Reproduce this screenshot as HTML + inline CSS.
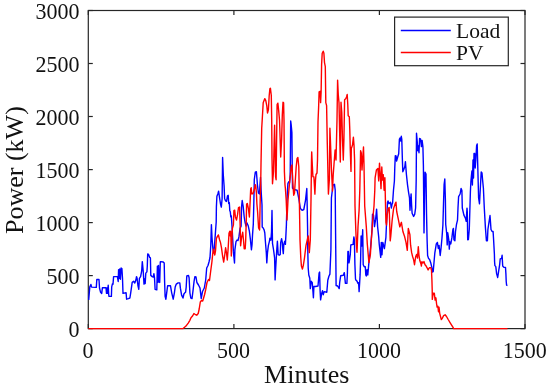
<!DOCTYPE html>
<html><head><meta charset="utf-8"><style>
html,body{margin:0;padding:0;background:#fff;}
svg{display:block;}
text{font-family:"Liberation Serif",serif;fill:#111;}
</style></head><body>
<svg width="550" height="388" viewBox="0 0 550 388">
<rect width="550" height="388" fill="#fff"/>
<g stroke="#262626" stroke-width="1.2" fill="none">
<rect x="88.3" y="10.5" width="436.7" height="318.1"/>
<line x1="88.3" y1="328.6" x2="92.8" y2="328.6"/><line x1="525.0" y1="328.6" x2="520.5" y2="328.6"/><line x1="88.3" y1="275.6" x2="92.8" y2="275.6"/><line x1="525.0" y1="275.6" x2="520.5" y2="275.6"/><line x1="88.3" y1="222.6" x2="92.8" y2="222.6"/><line x1="525.0" y1="222.6" x2="520.5" y2="222.6"/><line x1="88.3" y1="169.6" x2="92.8" y2="169.6"/><line x1="525.0" y1="169.6" x2="520.5" y2="169.6"/><line x1="88.3" y1="116.5" x2="92.8" y2="116.5"/><line x1="525.0" y1="116.5" x2="520.5" y2="116.5"/><line x1="88.3" y1="63.5" x2="92.8" y2="63.5"/><line x1="525.0" y1="63.5" x2="520.5" y2="63.5"/><line x1="88.3" y1="10.5" x2="92.8" y2="10.5"/><line x1="525.0" y1="10.5" x2="520.5" y2="10.5"/><line x1="88.3" y1="328.6" x2="88.3" y2="324.1"/><line x1="88.3" y1="10.5" x2="88.3" y2="15.0"/><line x1="233.9" y1="328.6" x2="233.9" y2="324.1"/><line x1="233.9" y1="10.5" x2="233.9" y2="15.0"/><line x1="379.4" y1="328.6" x2="379.4" y2="324.1"/><line x1="379.4" y1="10.5" x2="379.4" y2="15.0"/><line x1="525.0" y1="328.6" x2="525.0" y2="324.1"/><line x1="525.0" y1="10.5" x2="525.0" y2="15.0"/>
</g>
<g fill="none" stroke-width="1.4" stroke-linejoin="round" stroke-linecap="butt">
<polyline stroke="#0000ff" points="88.7,299.9 89.8,286.9 90.9,284.5 91.6,287.1 96.3,287.4 96.8,279.5 99,279.5 99.5,288 100.6,292.3 101.7,293.4 102.4,287.8 106,287.8 106.5,293.4 107.1,288 107.6,293.4 108.2,285.3 108.7,294.5 109,296.4 111.4,296.4 111.7,286.9 112.5,283.6 113,284.2 113.6,276.6 117.4,276.6 118.2,281.5 118.6,269.6 119.3,278.2 119.7,269 120.4,279.3 121.1,268 121.9,268.5 122.5,278.2 123,293.4 126.1,292.8 126.6,299.2 128.4,298.6 129.9,298 130.7,292.8 132.2,282.4 133.6,281.2 134.8,283 135.9,280 136.5,276.6 137.1,278.3 138,285.8 138.8,289.3 139.4,278.3 140.6,276.6 141.7,270.8 142.3,261.6 143.2,270.8 144,284.1 144.6,278.9 145.2,283.5 145.8,273.1 146.9,271.9 147.3,266 147.7,253.9 148.5,254.3 149.7,257.4 150.4,257.8 150.8,275.4 152.2,276.6 153.3,277.1 153.9,273.7 154.5,277.7 155.1,289.3 156.8,289.9 157.4,266.1 158,282.4 158.5,265.5 159.1,281.2 159.7,282.4 160.3,262.1 160.5,261.6 163.2,262 164.2,263 164.6,281.2 165.1,296.3 165.9,299.2 166.7,292.8 167.6,285.8 170.5,285.8 171.7,292.8 173.2,299.2 174.4,292.8 175.2,287 176.3,284.1 178.1,282.9 179.8,282.9 180.4,288.2 181.6,295.1 183,298 183.9,294 184.8,292.8 185.6,292.2 186.2,287 186.8,276 188.5,275.4 189.1,277.7 189.9,292.8 190.8,298 192,298.6 192.9,291.6 194.1,281.2 194.9,276.6 196,277 196.9,282.5 198.5,285 200,288 201.2,298.5 202.5,291.5 204.3,288 205.7,280 206.7,268 208,265.5 209,262 210,257.5 210.8,245 211.4,224.6 212,237.5 212.8,247.8 213.5,252.9 214.3,247.8 215.3,234.4 216.2,222 216.4,206.6 216.9,196.3 217.9,193.7 218.6,191.2 219.5,197.3 220.5,204 221.3,207.1 222.1,199 222.6,157.5 223.3,175 224.1,186 224.6,198.4 225.6,201 226.5,201.5 227.5,195.8 228.2,195.3 228.7,203.5 229.3,202.5 229.8,210.7 230.3,211.8 230.8,216.9 231.3,215.9 232,226 232.9,242.6 233.4,251.9 233.9,257 234.5,263 234.9,249.8 236,241.6 237,240 238,240.6 239,236.4 240.1,228.2 241.1,226.1 241.6,206.6 242.2,200.5 243.2,206.6 244.2,217 245,222 246,226 247,223 248.3,226.1 249.4,231.3 250.4,239.5 251.4,249.8 252,245 252.5,235.4 253.3,224.1 253.8,204 254.3,179.5 255.3,172.2 256.4,171.7 257.4,184.6 258.4,192.9 259.5,193.9 260,184.6 260.5,177.4 261.1,190 261.5,197 262,205 262.2,227 263.2,228 264.2,230.1 264.8,233 265.3,240.2 266.3,252.6 266.8,262.9 267.5,252.6 268.4,245.4 269.4,241.3 269.9,238.2 270.9,240.2 271.5,232 272,210.5 272.5,243.3 273.5,249.5 274.6,257.8 275.1,279.9 275.6,270 276.6,252.6 277.4,241.3 278.2,254.7 279.2,255.2 280.2,254.7 280.7,242.3 281.6,238.7 282.3,242.3 282.8,249.5 283.3,253.6 283.8,244.4 284.7,241.3 285.4,244.4 285.9,235.1 286.4,224.9 287,200.3 287.9,183.5 288.7,181.8 289.5,183 290.2,175 290.7,121 291.2,125 291.9,132.5 292.2,165 292.5,188 293.7,189.4 297.1,190.2 298.8,198.6 300.4,208.6 302.1,210.3 303.8,209.5 305.5,200.3 306.8,188.5 307.1,201.5 307.6,229.3 307.7,247.4 308.2,268 308.8,275 309.8,278.2 310.3,288.6 311.1,281.3 312.2,282.4 312.9,290.6 313.4,297.8 313.9,286.5 315.5,286.5 318,286 319.1,273.1 319.6,272.1 320.1,290.6 320.6,299.9 321.1,297 321.6,293.7 322.5,290.6 323.2,294.7 324.2,291.6 326.8,292.2 327.8,280.3 328.9,276.2 329.9,274.1 330.9,250 331.4,198 333,184.8 334.5,184.3 335.2,190 335.6,234 336.1,285.5 337.6,286 339.2,288.6 339.7,282.4 340.7,275.7 343.3,275.2 344.3,272.6 345.4,283.4 346.9,283.4 347.4,273.1 347.9,251.5 348.4,251.5 349,262.9 349.5,260 350.3,254.3 350.8,245 353.1,244.3 353.9,236.9 354.4,240 354.9,264.6 355.5,279 356,280.3 357,281.1 358,283.4 358.6,282.7 359.1,291.6 359.6,283.4 360.1,274.9 360.6,260 361.1,235.9 361.6,246.1 362.2,240 362.7,229.7 363.2,264.6 364.2,266.7 365.3,266.7 365.8,274.9 366.3,276 366.8,270 367.3,269.8 367.8,275 368.9,262.6 369.9,254.3 370.9,244 372,230 372.5,214.2 373.5,215 374.3,223.8 374.5,226.6 375.6,219.4 376.6,209.1 377.6,226.6 378.7,236.9 379.2,244 380.7,257.4 381.3,242.4 382,254.7 382.8,242.4 384.4,248.6 385.9,237.7 386.7,219.2 387.5,202.2 388,201 389,203.7 390.5,202.2 391.3,208 392.1,204 392.6,203 393.5,190 394.4,181 394.8,167 395.3,155.8 396.1,156 396.6,161.1 397.7,157 398.7,153.8 399.4,139.4 400,138 400.8,141 401.3,136.3 401.8,139.4 402.3,156.9 402.8,171.7 403.9,169.2 404.9,166.1 405.4,161.6 406.4,174.3 407.5,184.6 408.5,191.8 409.5,198 410,210.2 410.6,200 411.1,193.9 411.6,205 412.1,213.3 413.6,216.4 414.7,214.4 415.6,208 416.2,180 416.5,133.2 417.2,141 417.8,150.7 418.4,146 419,152.8 419.6,138.4 420.6,139 421.4,146.6 422.1,140.4 422.9,146.6 423.4,166 424,232.9 424.5,200 425,172.2 426,174 426.5,212.3 427.1,240 427.6,255.5 428.6,258.6 429.6,259.6 430.7,262.7 431.7,266.8 432.7,272 433.2,271.7 434.8,253.2 436.3,243.9 437.4,242.4 438.3,248.5 439.1,245.5 440.2,255.5 441,248.5 442,237.7 442.9,225 443.5,204 444.1,184.6 444.8,179 445.4,200 445.7,224.3 446.7,233.6 447.2,244.9 447.7,232.6 448.8,239.8 449.3,249.1 449.8,241.8 450.8,243.9 451.9,237.7 452.9,229.5 453.4,228.4 453.9,239.8 454.9,240.8 455.5,231.5 456.5,224.3 457.5,220.2 458,208 458.6,196.6 460.1,194 461.1,188.4 461.9,190.4 462.3,208 463.9,215.1 465.4,218.2 466.2,221.3 467,208.1 467.3,212 467.7,239.8 468.4,239.5 469.3,229 470.4,191.5 470.9,181.2 471.4,176 471.9,171 472.4,185 473,160 473.5,178 474,153.5 474.7,153.5 475.2,168 475.8,160 476.6,145.8 477.2,143.9 477.6,160 478.6,198 479.5,203.8 480.5,185 481.2,172 482,173 482.6,180 483.4,188.4 484.3,208 485.4,227.4 486.4,240.8 487.4,240.8 487.9,229.5 489,222.2 490,215.5 490.5,222.2 491,229.5 492.1,231.5 493.1,231.5 493.6,239.8 494.4,254.3 494.6,262 494.9,265.6 495.8,266.6 496.6,273.6 497.7,277.5 498.5,272.1 499.7,264.3 500.2,259 501.6,258.4 502.1,255.3 502.7,266 503.9,267.4 505.5,267.4 505.9,273.6 506.2,281.3 506.6,285.2 507.4,285.6"/>
<polyline stroke="#ff0000" points="88.3,328.6 183.1,328.6 184.8,327.1 186.5,325.4 188.2,323.1 189.9,320.3 191,317.7 192.7,315.8 193.9,313.5 195,314.3 196.7,315.2 198.2,313.5 199.2,309 200.3,302 201.5,300.5 202.7,301 203.6,298 204.6,294.5 205.7,289.5 207,282.5 208.5,279.5 209.5,280.5 210.7,271 211.9,262 212.8,253 213.5,249 214.3,253 214.8,255 215.5,251 216.4,238.5 217.4,236.4 218.4,234.9 219.5,239.5 220.5,242.6 221.5,247.8 222.6,256 223.7,262 224.6,256 225.6,247.8 226.5,252.9 227.3,260 228.2,247.8 229,233.3 229.8,231.3 230.3,236 230.8,231.3 231.3,256 231.8,245 232.4,228.2 233.4,225.1 233.9,210.7 234.7,210.2 235.4,216.9 236.5,220 237.5,214.9 238.5,207.6 239.6,207.1 240.1,224 240.6,245.7 241.6,237.5 242.7,232.3 243.5,240 244.2,248.8 245.2,248.8 245.7,240 246.3,220 246.6,204 247.3,203.5 248.4,208.7 249.4,217 250.2,200 250.7,188.7 251.2,187.7 251.7,193.9 252.8,193.9 254.3,189.8 255.3,184.6 255.8,186 256.4,192.9 256.9,204 257.6,212 258.6,228 259.6,230 260.2,200 260.7,184 261,164 261.7,128.3 262.2,120 263.2,102.7 264.8,98.6 265.8,100.6 266.8,105.8 267.5,113 268.4,109.9 269.2,95.5 269.9,88.8 270.4,88.2 271.3,95.5 271.7,120 272,158 272.5,183.8 273.5,171.5 274.2,140 274.6,125.2 275.1,150 275.6,176.6 276.1,179.7 276.6,140 277.1,104.7 277.9,103.2 278.7,110.9 279.5,120 279.8,128 280.7,157 281.6,140 282.3,115 283,102.2 283.6,102.7 284,120 284.4,171.5 285,185 285.4,188.5 286.2,200.3 287,220 288,200 289.5,183.5 291.2,166.8 292,165 292.9,183.5 293.7,195.2 294.5,193 296.2,166.8 297.1,158.4 297.9,157.5 298.8,166.8 299.6,215 300,240 300.8,258 301.4,266 302.4,269.1 303.4,265 304.5,257.8 306,245.4 307.2,240.2 308.2,236 309.3,252.6 310.3,240 311,200 311.5,160 311.7,151.9 312.3,165 312.9,176.6 313.9,177 314.9,194.1 315.5,180 316,174.5 317,173 317.5,160 318,122 318.6,107.8 319.1,91.8 320.1,91.3 320.6,102.6 321.1,92.3 321.6,64.6 322.2,53.3 323.2,51.2 323.9,53.3 324.5,62.6 325.3,66.7 325.8,102.6 326.6,105.7 327.3,143.7 328.4,194.1 329.4,178.6 329.9,128.2 330.4,140 331.4,168.3 332.5,191 333.2,175 334,164.2 335.1,150 336,160 337,120 337.6,80.1 338.3,95 339,102.6 339.6,130 340.3,162 341,102.3 341.8,112.9 342.5,140 343.3,160 343.9,140 344.6,99.7 345.7,98.7 346.5,97 347.2,94.5 347.8,105 348.2,115.7 349.3,116.7 349.8,130 350.3,150.6 351,171.4 351.3,148.6 352.5,145 353.4,137.2 354,145 354.6,160 355,206 355.8,230 356.5,246 357,252.2 357.5,240 358,226.6 359.1,210.1 359.8,190 360.6,150.6 361.3,153 362,170 362.6,160 363.5,147 364,165 364.7,206 366.3,226.6 367.3,244 368.9,262.6 370.4,254.3 370.9,246 373,216.3 374,206 374.8,190 375.1,177.8 376.4,170.1 377.9,168.5 378.7,180.9 379.5,163.1 380.3,175 381,188.6 381.8,167 382.5,180 383.3,174.7 384.1,190.2 384.9,177.8 385.9,222.3 386.5,225 387.2,215 388.2,208.4 389.2,207.5 390.2,240.8 390.8,236 392.1,220.7 393.6,208.4 395.2,203.7 396,202.2 396.7,211.5 398.3,219.2 399.8,226.9 401.4,222.3 402.9,231.5 404.5,236.2 406,242.4 407.3,250.3 408.3,228.5 409.9,234.6 410.6,245.2 411.6,252.4 412.6,256.5 413.6,259.6 414.5,264.7 415.7,256.5 416.7,254.4 417.5,258 418.3,246.7 419,255.5 419.8,260.6 420.9,263.7 421.4,266 421.9,261.6 423,263 424,261.6 425,264.7 426,265.8 427.1,267.8 428.1,269.9 428.8,268.6 429.8,267.6 430.8,267.6 431.5,270.2 431.9,279.5 432.2,289.8 432.3,299.4 433.2,293.2 434.3,293.2 435.1,300.1 435.9,297.8 436.6,304 437.1,307.1 437.9,306.3 438.5,311.7 439,307.1 439.7,313.3 441.3,319.5 442.2,318.5 443.6,315.6 445.1,314.8 446.5,316.5 448.2,319.5 450.5,323.3 452.9,327.2 453.7,328.6 507.5,328.6"/>
</g>
<g font-size="22">
<text transform="translate(79.4,337.0) scale(1,1.08)" text-anchor="end">0</text><text transform="translate(79.4,284.0) scale(1,1.08)" text-anchor="end">500</text><text transform="translate(79.4,231.0) scale(1,1.08)" text-anchor="end">1000</text><text transform="translate(79.4,178.0) scale(1,1.08)" text-anchor="end">1500</text><text transform="translate(79.4,124.9) scale(1,1.08)" text-anchor="end">2000</text><text transform="translate(79.4,71.9) scale(1,1.08)" text-anchor="end">2500</text><text transform="translate(79.4,18.9) scale(1,1.08)" text-anchor="end">3000</text>
<text transform="translate(88.0,357.9) scale(1,1.08)" text-anchor="middle">0</text><text transform="translate(233.6,357.9) scale(1,1.08)" text-anchor="middle">500</text><text transform="translate(379.1,357.9) scale(1,1.08)" text-anchor="middle">1000</text><text transform="translate(524.7,357.9) scale(1,1.08)" text-anchor="middle">1500</text>
</g>
<text x="306.7" y="383.2" font-size="26" text-anchor="middle">Minutes</text>
<text transform="translate(22.6,170.1) rotate(-90)" font-size="26" text-anchor="middle">Power (kW)</text>
<rect x="394.6" y="17.1" width="113.7" height="48.6" fill="#fff" stroke="#262626" stroke-width="1.2"/>
<line x1="400.8" y1="30.5" x2="450.8" y2="30.5" stroke="#0000ff" stroke-width="1.4"/>
<line x1="400.8" y1="52.5" x2="450.8" y2="52.5" stroke="#ff0000" stroke-width="1.4"/>
<g font-size="21.5">
<text x="456" y="38.2">Load</text>
<text x="456" y="60">PV</text>
</g>
</svg>
</body></html>
